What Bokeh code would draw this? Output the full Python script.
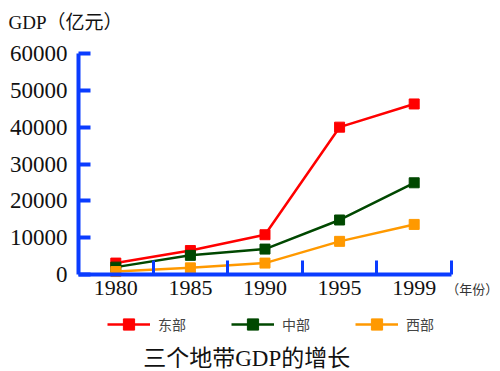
from bokeh.plotting import figure
from bokeh.models import (Range1d, FixedTicker, Legend, LegendItem, Label, LinearAxis)
from bokeh.core.properties import value
from bokeh.embed import file_html
from bokeh.resources import INLINE

years = ["1980", "1985", "1990", "1995", "1999"]
east = [3100, 6500, 10800, 40000, 46300]
central = [2000, 5200, 6900, 14800, 24900]
west = [800, 1800, 3100, 9000, 13600]
series_names = ["东部", "中部", "西部"]
y_ticks = [0, 10000, 20000, 30000, 40000, 50000, 60000]
y_title = "GDP（亿元）"
x_title = "（年份）"
caption = "三个地带GDP的增长"

AXIS = "#0a3cff"
colors = ["#ff0000", "#004800", "#ff9900"]
SERIF = "Liberation Serif"
MIX = "Liberation Serif, Noto Sans CJK SC"
CJK = "Noto Sans CJK SC"

xs = list(range(len(years)))
n = len(years)

p = figure(width=500, height=371, output_backend="svg", toolbar_location=None,
           x_range=Range1d(-1.5456, 5.157), y_range=Range1d(-26335, 74390),
           x_axis_location=None, y_axis_location=None,
           min_border_left=0, min_border_right=0, min_border_top=0, min_border_bottom=0)
p.outline_line_color = None
p.grid.grid_line_color = None
p.background_fill_color = "white"
p.border_fill_color = "white"

# axes
xa = LinearAxis(fixed_location=0, bounds=(-0.5, n - 0.5))
xa.ticker = FixedTicker(ticks=xs, minor_ticks=[i + 0.5 for i in xs])
xa.major_label_overrides = {i: y for i, y in zip(xs, years)}
xa.axis_line_color = AXIS
xa.axis_line_width = 4
xa.major_tick_line_color = None
xa.major_tick_out = 0
xa.minor_tick_line_color = AXIS
xa.minor_tick_line_width = 3
xa.minor_tick_in = 14
xa.minor_tick_out = 0
xa.major_label_text_font = SERIF
xa.major_label_text_font_size = "22px"
xa.major_label_text_color = "#111111"
xa.major_label_standoff = 6
p.add_layout(xa, "below")

ya = LinearAxis(fixed_location=-0.5, bounds=(0, 60000))
ya.ticker = FixedTicker(ticks=y_ticks, minor_ticks=[])
ya.axis_line_color = AXIS
ya.axis_line_width = 4
ya.major_tick_line_color = AXIS
ya.major_tick_line_width = 4
ya.major_tick_in = 12
ya.major_tick_out = 0
ya.major_label_text_font = SERIF
ya.major_label_text_font_size = "23px"
ya.major_label_text_color = "#111111"
ya.major_label_standoff = 11
ya.formatter.use_scientific = False
p.add_layout(ya, "left")

items = []
for name, vals, c in zip(series_names, [east, central, west], colors):
    r1 = p.line(xs, vals, line_color=c, line_width=2.5)
    r2 = p.scatter(xs, vals, marker="square", size=10, fill_color=c, line_color=c)
    items.append(LegendItem(label=name, renderers=[r1, r2]))

legend = Legend(items=items, orientation="horizontal", location=(107, 33),
                glyph_width=43, glyph_height=28, label_standoff=8, spacing=45,
                padding=0, margin=0, border_line_color=None, background_fill_alpha=0,
                label_text_font=CJK, label_text_font_size="14px",
                label_text_color="#444444")
p.add_layout(legend, "center")

p.add_layout(Label(x=-1.438, y=71400, text=y_title, text_font=MIX,
                   text_font_size="19px", text_baseline="top", text_color="#111111"))
p.add_layout(Label(x=4.43, y=-3800, text=x_title, text_font=CJK,
                   text_font_size="13px", text_baseline="middle", text_color="#333333"))
p.add_layout(Label(x=1.755, y=-22800, text=caption, text_font=MIX,
                   text_font_size="23px", text_baseline="middle", text_align="center",
                   text_color="#111111"))

open("out.html", "w").write(file_html(p, INLINE))
